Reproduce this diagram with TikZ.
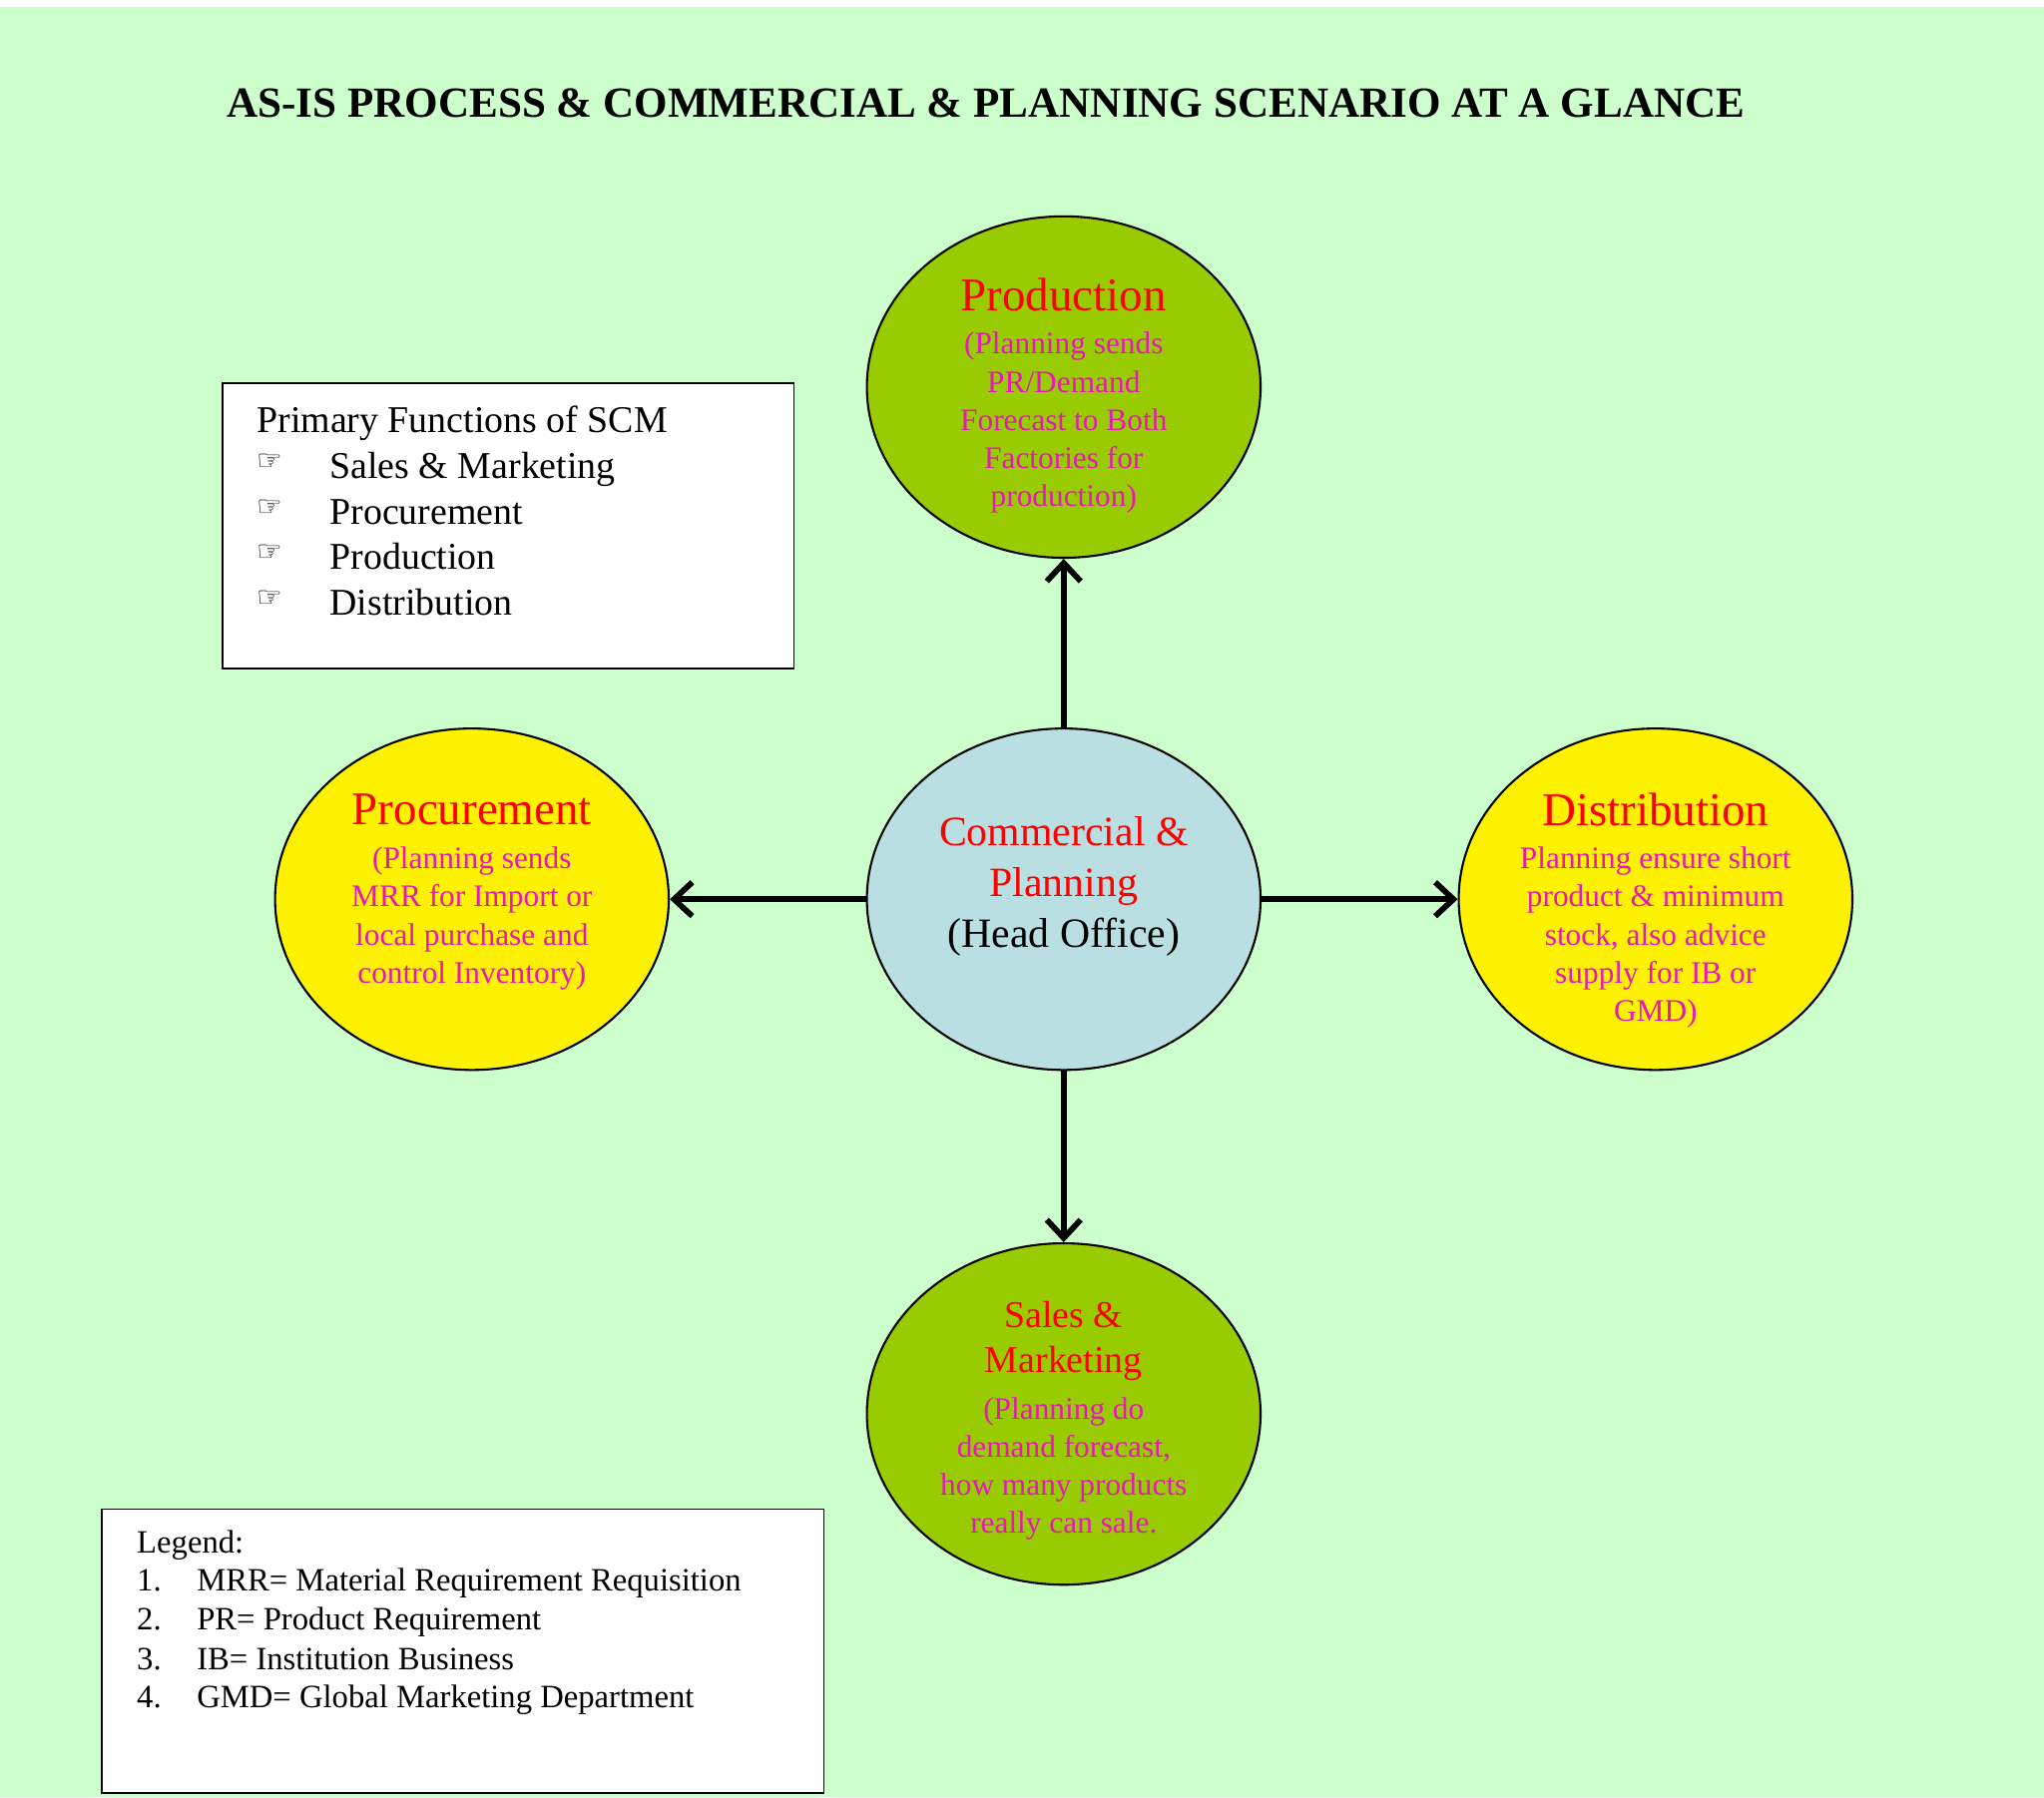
\documentclass[tikz,border=0pt]{standalone}
\usepackage{fontspec}
\setmainfont{Liberation Serif}
\newfontfamily\dejavu{DejaVu Sans}
\usetikzlibrary{shapes.geometric,arrows.meta}
\definecolor{bgg}{HTML}{CCFFCC}
\definecolor{ogreen}{HTML}{99CC00}
\definecolor{lblue}{HTML}{B9DFE3}
\definecolor{mag}{HTML}{E619B8}
\begin{document}
\begin{tikzpicture}[x=0.5pt,y=-0.5pt,
  ell/.style={ellipse,draw=black,line width=0.8pt,minimum width=151pt,minimum height=131pt,inner sep=0pt},
  hd/.style={text=red,font=\fontsize{18}{19}\selectfont},
  sub/.style={text=mag,align=center,font=\fontsize{12}{14.6}\selectfont,anchor=north},
  arr/.style={line width=2.2pt,-{Straight Barb[length=7pt,width=13pt]}},
  box/.style={draw=black,fill=white,line width=0.7pt}]
\useasboundingbox (0,0) rectangle (1568,1379);
\fill[white] (0,0) rectangle (1568,1379);
\fill[bgg] (0,5) rectangle (1568,1379);
\node[anchor=base west,font=\bfseries\fontsize{16.5}{18}\selectfont] (title) at (167,90) {AS-IS PROCESS \& COMMERCIAL \& PLANNING SCENARIO AT A GLANCE};
% SCM box
\draw[box] (171,294) rectangle (609,513);
\node[anchor=base west,font=\fontsize{14.5}{16}\selectfont] (scm) at (190,332) {Primary Functions of SCM};
\foreach \y/\t [count=\i] in {367/Sales \& Marketing,402/Procurement,437/Production,472/Distribution}{
  \node[anchor=base west,font=\dejavu\fontsize{11}{12}\selectfont] (h\i) at (190,\y-6) {☞};
  \node[anchor=base west,font=\fontsize{14.5}{16}\selectfont] (f\i) at (246,\y) {\t};
}
% ellipses
\node[ell,fill=ogreen] (prod) at (816,297) {};
\node[hd] (prodt) at (816,226) {Production};
\node[sub] (prods) at (816,248) {(Planning sends\\PR/Demand\\Forecast to Both\\Factories for\\production)};
\node[ell,fill=yellow] (proc) at (362,690) {};
\node[hd] (proct) at (362,621) {Procurement};
\node[sub] (procs) at (362,643) {(Planning sends\\MRR for Import or\\local purchase and\\control Inventory)};
\node[ell,fill=lblue] (cp) at (816,690) {};
\node[text=red,align=center,font=\fontsize{16}{19.5}\selectfont] (cpt) at (816,661) {Commercial \&\\Planning};
\node[font=\fontsize{16}{19.5}\selectfont] (cps) at (816,719) {(Head Office)};
\node[ell,fill=yellow] (dist) at (1270,690) {};
\node[hd] (distt) at (1270,621) {Distribution};
\node[sub] (dists) at (1270,643) {Planning ensure short\\product \& minimum\\stock, also advice\\supply for IB or\\GMD)};
\node[ell,fill=ogreen] (sales) at (816,1085) {};
\node[text=red,align=center,font=\fontsize{14.5}{17.5}\selectfont] (salest) at (816,1029) {Sales \&\\Marketing};
\node[sub] (saless) at (816,1065) {(Planning do\\demand forecast,\\how many products\\really can sale.};
\draw[arr] (cp) -- (prod);
\draw[arr] (cp) -- (proc);
\draw[arr] (cp) -- (dist);
\draw[arr] (cp) -- (sales);
% legend
\draw[box] (78,1158) rectangle (632,1376);
\node[anchor=base west,font=\fontsize{12.5}{14}\selectfont] (lg) at (98,1192) {Legend:};
\foreach \y/\t [count=\i] in {1221/MRR= Material Requirement Requisition,1251/PR= Product Requirement,1281/IB= Institution Business,1310/GMD= Global Marketing Department}{
  \node[anchor=base west,font=\fontsize{12.5}{14}\selectfont] (n\i) at (98,\y) {\i.};
  \node[anchor=base west,font=\fontsize{12.5}{14}\selectfont] (l\i) at (144,\y) {\t};
}
\end{tikzpicture}
\end{document}
